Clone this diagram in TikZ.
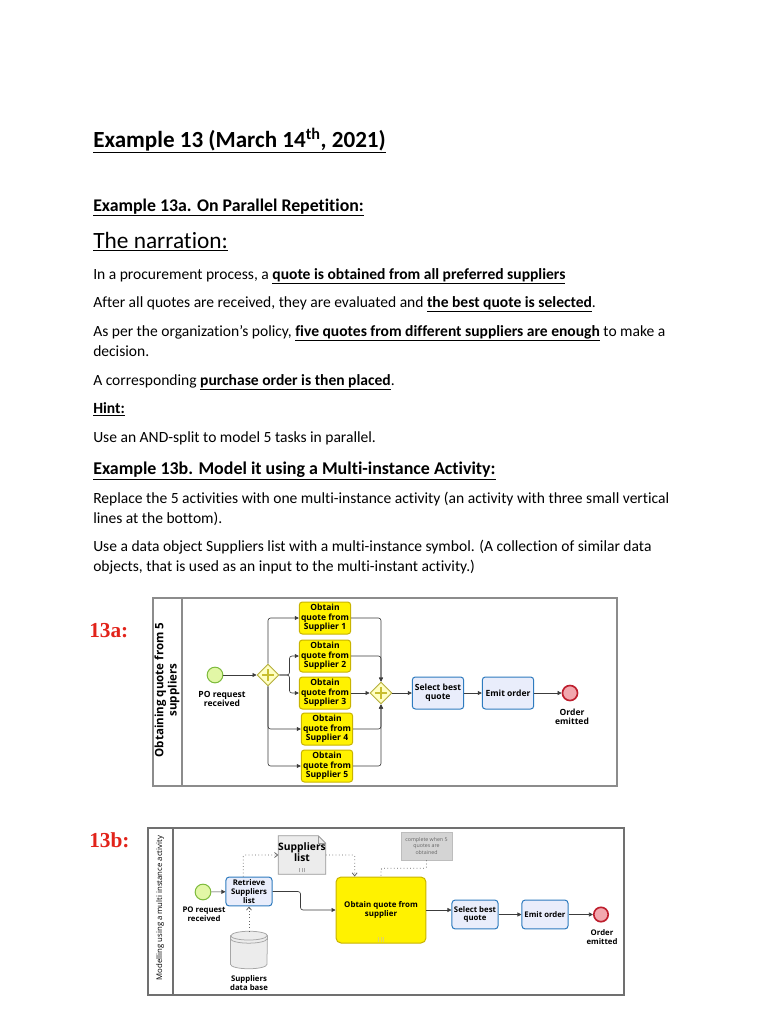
\documentclass[tikz,border=0pt]{standalone}
\usepackage{fontspec}
\setmainfont{Carlito}[Ligatures=NoCommon]
\newfontfamily\diagfont{Open Sans}
\newfontfamily\casefont{Liberation Serif}
\usepackage{xcolor}
\usetikzlibrary{shapes.geometric, arrows.meta, positioning, calc}

\definecolor{taskyellow}{HTML}{FFF200}
\definecolor{taskyellowline}{HTML}{C9B400}
\definecolor{taskblue}{HTML}{E9EDFB}
\definecolor{taskblueline}{HTML}{2E7BBF}
\definecolor{gatefill}{HTML}{FFFFC4}
\definecolor{gateline}{HTML}{B5AE3A}
\definecolor{gateplusc}{HTML}{C8BE30}
\definecolor{startfill}{HTML}{E2F7A6}
\definecolor{startline}{HTML}{7DBB3C}
\definecolor{endfill}{HTML}{F2A7AE}
\definecolor{endline}{HTML}{BE1E2D}
\definecolor{flowline}{HTML}{3C3C3C}
\definecolor{poolline}{HTML}{8C8C8C}
\definecolor{datafill}{HTML}{ECECEC}
\definecolor{noteline}{HTML}{BDBDBD}
\definecolor{notefill}{HTML}{D4D4D4}
\definecolor{labelred}{HTML}{E2231A}

\newcommand\ubf[1]{\underline{\textbf{#1}}}
% plus sign inside a parallel gateway
\newcommand\gateplus[1]{\draw[gateplusc, line width=1.5pt] ([xshift=-4.5pt]#1.center) -- ([xshift=4.5pt]#1.center) ([yshift=-4.5pt]#1.center) -- ([yshift=4.5pt]#1.center);}
% multi-instance marker (three bars)
\newcommand\mimark[2]{\foreach \dx in {-2pt,0pt,2pt}
  \draw[#1, line width=0.5pt] ([xshift=\dx,yshift=1.5pt]#2.south) -- ++(0pt,3.5pt);}

\begin{document}
\begin{tikzpicture}[x=0.797pt, y=-0.797pt,
        para/.style={anchor=base west, inner sep=0pt, font=\fontsize{12.4}{14}\selectfont},
        task/.style={rectangle, rounded corners=2.5pt, line width=0.8pt, inner sep=0pt, align=center, font=\diagfont\bfseries\fontsize{6.8}{7.6}\selectfont},
        quotetask/.style={task, draw=taskyellowline, fill=taskyellow, minimum width=41pt, minimum height=25.5pt},
        bluetask/.style={task, draw=taskblueline, fill=taskblue, minimum width=41pt, minimum height=25.5pt},
        smalltask/.style={minimum width=36.7pt, minimum height=23pt, font=\diagfont\bfseries\fontsize{6.2}{6.9}\selectfont},
        gate/.style={diamond, draw=gateline, fill=gatefill, line width=0.8pt, minimum size=17.5pt, inner sep=0pt},
        startev/.style={circle, draw=startline, fill=startfill, line width=0.8pt, minimum size=12.5pt, inner sep=0pt},
        endev/.style={circle, draw=endline, fill=endfill, line width=1.3pt, minimum size=12pt, inner sep=0pt},
        evtext/.style={align=center, inner sep=0pt, font=\diagfont\bfseries\fontsize{6.8}{7.6}\selectfont},
        flow/.style={draw=flowline, line width=0.5pt, rounded corners=2pt, -{Triangle[length=3.2pt,width=3.2pt]}},
        assoc/.style={draw=flowline!80, line width=0.6pt, dotted, rounded corners=1pt},
        pool/.style={draw=poolline, line width=1pt},
        dbline/.style={draw=gray!70, fill=datafill, line width=0.6pt},
        caselabel/.style={anchor=base west, inner sep=0pt, text=labelred, font=\casefont\bfseries\fontsize{17}{17}\selectfont}
    ]
        \useasboundingbox[fill=white] (0,0) rectangle (768,1024);

        % Headings and narration
        \node[para, font=\fontsize{18.4}{20}\selectfont] (title) at (93,147) {\ubf{Example 13 (March 14\textsuperscript{th}, 2021)}};
        \node[para, font=\fontsize{14.2}{16}\selectfont] (headA) at (93,211) {\ubf{Example 13a. On Parallel Repetition:}};
        \node[para, font=\fontsize{18.6}{20}\selectfont] (narr) at (93,248) {\underline{The narration:}};
        \node[para] (l1) at (93,279) {In a procurement process, a \ubf{quote is obtained from all preferred suppliers}};
        \node[para] (l2) at (93,307) {After all quotes are received, they are evaluated and \ubf{the best quote is selected}.};
        \node[para] (l3) at (93,336) {As per the organization’s policy, \ubf{five quotes from different suppliers are enough} to make a};
        \node[para] (l3b) at (93,356) {decision.};
        \node[para] (l4) at (93,385) {A corresponding \ubf{purchase order is then placed}.};
        \node[para] (hint) at (93,413) {\ubf{Hint:}};
        \node[para] (l5) at (93,442) {Use an AND-split to model 5 tasks in parallel.};
        \node[para, font=\fontsize{14.3}{16}\selectfont] (headB) at (93,474) {\ubf{Example 13b. Model it using a Multi-instance Activity:}};
        \node[para] (l6) at (93,503) {Replace the 5 activities with one multi-instance activity (an activity with three small vertical};
        \node[para] (l6b) at (93,523) {lines at the bottom).};
        \node[para] (l7) at (93,551) {Use a data object Suppliers list with a multi-instance symbol. (A collection of similar data};
        \node[para] (l7b) at (93,571) {objects, that is used as an input to the multi-instant activity.)};

        % 13a: parallel split
        \node[caselabel] (labA) at (89,637) {13a:};
        \draw[pool] (153,598) rectangle (617,786);
        \draw[pool] (182,598) -- (182,786);
        \node[rotate=90, align=center, inner sep=0pt, font=\diagfont\bfseries\fontsize{9.2}{10.6}\selectfont] (poolA) at (167,690) {Obtaining quote from 5\\suppliers};

        \node[startev] (startA) at (215,675) {};
        \node[evtext] (startAlbl) at (222,699) {PO request\\received};
        \node[gate] (splitA) at (268,675) {};
        \gateplus{splitA}
        \node[quotetask] (qA1) at (325,618) {Obtain\\quote from\\Supplier 1};
        \node[quotetask] (qA2) at (325,656) {Obtain\\quote from\\Supplier 2};
        \node[quotetask] (qA3) at (325,693) {Obtain\\quote from\\Supplier 3};
        \node[quotetask] (qA4) at (327,729) {Obtain\\quote from\\Supplier 4};
        \node[quotetask] (qA5) at (327,766) {Obtain\\quote from\\Supplier 5};
        \node[gate] (joinA) at (381,693) {};
        \gateplus{joinA}
        \node[bluetask] (selA) at (438,693) {Select best\\quote};
        \node[bluetask] (emitA) at (508,693) {Emit order};
        \node[endev] (endA) at (570,693) {};
        \node[evtext] (endAlbl) at (572,717) {Order\\emitted};

        \draw[flow] (startA) -- (splitA);
        \draw[flow] (splitA.north) |- (qA1.west);
        \draw[flow] (splitA.east) -- ++(10,0) |- (qA2.west);
        \draw[flow] (splitA.east) -- ++(10,0) |- (qA3.west);
        \draw[flow] (splitA.south) |- (qA4.west);
        \draw[flow] (splitA.south) |- (qA5.west);
        \draw[flow] (qA1.east) -| (joinA.north);
        \draw[flow] (qA2.east) -| (joinA.north);
        \draw[flow] (qA3.east) -- (joinA.west);
        \draw[flow] (qA4.east) -| (joinA.south);
        \draw[flow] (qA5.east) -| (joinA.south);
        \draw[flow] (joinA) -- (selA);
        \draw[flow] (selA) -- (emitA);
        \draw[flow] (emitA) -- (endA);

        % 13b: multi-instance activity
        \node[caselabel] (labB) at (89,847) {13b:};
        \draw[pool, draw=poolline!80!black] (148,828) rectangle (624,995);
        \draw[pool, draw=poolline!80!black] (173,828) -- (173,995);
        \node[rotate=90, inner sep=0pt, font=\diagfont\fontsize{6.2}{7}\selectfont] (poolB) at (160,908) {Modelling using a multi instance activity};

        \node[startev] (startB) at (203,892) {};
        \node[evtext, font=\diagfont\bfseries\fontsize{6.2}{6.9}\selectfont] (startBlbl) at (204,914) {PO request\\received};
        \node[bluetask, smalltask] (getB) at (249,891.5) {Retrieve\\Suppliers\\list};

        \node[minimum width=37.5pt, minimum height=30.3pt, inner sep=0pt] (listB) at (302,855) {};
        \draw[draw=gray!80, fill=datafill, line width=0.6pt] (listB.south west) -- (listB.north west) -- ([xshift=-6pt]listB.north east) -- ([yshift=-6pt]listB.north east) -- (listB.south east) -- cycle;
        \draw[draw=gray!80, line width=0.6pt] ([xshift=-6pt]listB.north east) -- ++(0pt,-6pt) -- ++(6pt,0pt);
        \node[align=center, inner sep=0pt, font=\diagfont\bfseries\fontsize{8.2}{8.6}\selectfont] (listBtxt) at (302,852) {Suppliers\\list};
        \mimark{gray!70}{listB}

        % database drawn as a cylinder
        \node[minimum width=29pt, minimum height=29.5pt, inner sep=0pt] (dbB) at (249,950) {};
        \draw[dbline] ([yshift=-3.5pt]dbB.north west) -- ([yshift=3.5pt]dbB.south west) arc[start angle=180, end angle=360, x radius=14.5pt, y radius=3.5pt] -- ([yshift=-3.5pt]dbB.north east) arc[start angle=0, end angle=180, x radius=14.5pt, y radius=3.5pt] -- cycle;
        \draw[dbline, fill=none] ([yshift=-3.5pt]dbB.north west) arc[start angle=180, end angle=360, x radius=14.5pt, y radius=3.5pt];
        \draw[dbline, fill=none] ([yshift=-6pt]dbB.north west) arc[start angle=180, end angle=360, x radius=14.5pt, y radius=3.5pt];
        \node[evtext, font=\diagfont\bfseries\fontsize{6.2}{6.9}\selectfont] (dbBlbl) at (249,983) {Suppliers\\data base};

        \node[quotetask, minimum width=71.7pt, minimum height=52.6pt, rounded corners=4pt, font=\diagfont\bfseries\fontsize{6.3}{6.9}\selectfont] (quoteB) at (381,910) {Obtain quote from\\supplier};
        \mimark{taskyellowline!60}{quoteB}
        \node[draw=noteline, fill=notefill, minimum width=40.6pt, minimum height=22.3pt, inner sep=0pt, align=center, text=gray!80!black, font=\diagfont\fontsize{4.2}{5}\selectfont] (noteB) at (426.5,846) {complete when 5\\quotes are\\obtained};
        \node[bluetask, smalltask] (selB) at (475,914.5) {Select best\\quote};
        \node[bluetask, smalltask] (emitB) at (545,914.5) {Emit order};
        \node[endev, minimum size=11.5pt] (endB) at (601,914.5) {};
        \node[evtext, font=\diagfont\bfseries\fontsize{6.2}{6.9}\selectfont] (endBlbl) at (602,937) {Order\\emitted};

        \draw[flow] (startB) -- (getB);
        \draw[assoc, -{Straight Barb[length=2.5pt,width=4pt]}] ([xshift=-4.5pt]getB.north) |- (listB.west);
        \draw[assoc, -{Straight Barb[length=2.5pt,width=4pt]}] (listB.east) -| ([xshift=-21pt]quoteB.north);
        \draw[assoc, -{Straight Barb[length=2.5pt,width=4pt]}] (dbB.north) -- (getB.south);
        \draw[assoc] (noteB.south) -- ++(0,8) -| (quoteB.north);
        \draw[flow] (getB.east) -- ++(28,0) |- (quoteB.west);
        \draw[flow] (quoteB.east) -- (quoteB.east -| selB.west);
        \draw[flow] (selB) -- (emitB);
        \draw[flow] (emitB) -- (endB);

    \end{tikzpicture}
\end{document}
